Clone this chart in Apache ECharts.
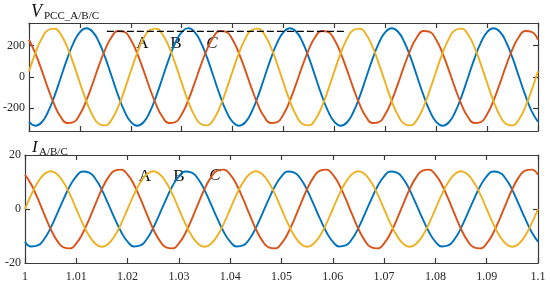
<!DOCTYPE html>
<html><head><meta charset="utf-8">
<script src="https://cdn.jsdelivr.net/npm/echarts@6/dist/echarts.min.js"></script>
<style>html,body{margin:0;padding:0;background:#fff}#c{width:550px;height:283px}</style>
</head><body><div id="c"></div>
<script>
var time = [1,1.00125,1.0025,1.00375,1.005,1.00625,1.0075,1.00875,1.01,1.01125,1.0125,1.01375,1.015,1.01625,1.0175,1.01875,
1.02,1.02125,1.0225,1.02375,1.025,1.02625,1.0275,1.02875,1.03,1.03125,1.0325,1.03375,1.035,1.03625,1.0375,1.03875,
1.04,1.04125,1.0425,1.04375,1.045,1.04625,1.0475,1.04875,1.05,1.05125,1.0525,1.05375,1.055,1.05625,1.0575,1.05875,
1.06,1.06125,1.0625,1.06375,1.065,1.06625,1.0675,1.06875,1.07,1.07125,1.0725,1.07375,1.075,1.07625,1.0775,1.07875,
1.08,1.08125,1.0825,1.08375,1.085,1.08625,1.0875,1.08875,1.09,1.09125,1.0925,1.09375,1.095,1.09625,1.0975,1.09875,1.1];

// voltages (V)
var vBlue = [-286,-311,-289,-222,-122,-3,116,218,286,311,289,222,122,3,-116,-218,
-286,-311,-289,-222,-122,-3,116,218,286,312,289,222,122,3,-116,-218,
-286,-311,-289,-222,-122,-3,116,218,286,311,289,222,122,3,-116,-218,
-286,-311,-289,-222,-122,-3,116,218,286,311,289,222,122,3,-116,-218,
-286,-311,-289,-222,-122,-3,116,218,286,311,289,222,122,3,-116,-218,-286];
var vRed = [238,151,42,-74,-178,-256,-294,-288,-238,-151,-42,74,178,256,294,288,
238,151,42,-74,-178,-256,-294,-288,-238,-151,-42,74,178,256,294,288,
238,151,42,-74,-178,-256,-294,-288,-238,-151,-42,74,178,256,294,288,
238,151,42,-74,-178,-256,-294,-288,-238,-151,-42,74,178,256,294,288,
238,151,42,-74,-178,-256,-294,-288,-238,-151,-42,74,178,256,294,288,238];
var vYellow = [37,153,245,300,309,271,192,84,-37,-153,-245,-300,-309,-271,-192,-84,
37,153,245,300,309,271,192,84,-37,-153,-245,-300,-309,-271,-192,-84,
37,153,245,300,309,271,192,84,-37,-153,-245,-300,-309,-271,-192,-84,
37,153,245,300,309,271,192,84,-37,-153,-245,-300,-309,-271,-192,-84,
37,153,245,300,309,271,192,84,-37,-153,-245,-300,-309,-271,-192,-84,37];

// currents (A)
var iBlue = [-12.1,-13.9,-13.5,-11.1,-7.0,-1.8,3.6,8.5,12.1,13.9,13.5,11.1,7.0,1.8,-3.6,-8.5,
-12.1,-13.9,-13.5,-11.1,-7.0,-1.8,3.6,8.5,12.1,13.9,13.5,11.1,7.0,1.8,-3.6,-8.5,
-12.1,-13.9,-13.5,-11.1,-7.0,-1.8,3.6,8.5,12.1,13.9,13.5,11.1,7.0,1.8,-3.6,-8.5,
-12.1,-13.9,-13.5,-11.1,-7.0,-1.8,3.6,8.5,12.1,13.9,13.5,11.1,7.0,1.8,-3.6,-8.5,
-12.1,-13.9,-13.5,-11.1,-7.0,-1.8,3.6,8.5,12.1,13.9,13.5,11.1,7.0,1.8,-3.6,-8.5,-12.1];
var iRed = [12.7,9.0,3.8,-1.9,-7.4,-11.7,-14.2,-14.6,-12.7,-9.0,-3.8,1.9,7.4,11.7,14.2,14.6,
12.7,9.0,3.8,-1.9,-7.4,-11.7,-14.2,-14.6,-12.7,-9.0,-3.8,1.9,7.4,11.7,14.2,14.6,
12.7,9.0,3.8,-1.9,-7.4,-11.7,-14.2,-14.6,-12.7,-9.0,-3.8,1.9,7.4,11.7,14.2,14.6,
12.7,9.0,3.8,-1.9,-7.4,-11.7,-14.2,-14.6,-12.7,-9.0,-3.8,1.9,7.4,11.7,14.2,14.6,
12.7,9.0,3.8,-1.9,-7.4,-11.7,-14.2,-14.6,-12.7,-9.0,-3.8,1.9,7.4,11.7,14.2,14.6,12.7];
var iYellow = [0,5.4,9.9,12.9,14,12.9,9.9,5.4,0,-5.4,-9.9,-12.9,-14,-12.9,-9.9,-5.4,
0,5.4,9.9,12.9,14,12.9,9.9,5.4,0,-5.4,-9.9,-12.9,-14,-12.9,-9.9,-5.4,
0,5.4,9.9,12.9,14,12.9,9.9,5.4,0,-5.4,-9.9,-12.9,-14,-12.9,-9.9,-5.4,
0,5.4,9.9,12.9,14,12.9,9.9,5.4,0,-5.4,-9.9,-12.9,-14,-12.9,-9.9,-5.4,
0,5.4,9.9,12.9,14,12.9,9.9,5.4,0,-5.4,-9.9,-12.9,-14,-12.9,-9.9,-5.4,0];

// dashed reference line in the voltage panel
var dashX = [1.0153, 1.062];
var dashY = [291, 291];

var vTicks = [-200, 0, 200];
var iLabelTicks = [-20, 0, 20];
var iTickMarks = [0];

function pairs(xs, ys){ return xs.map(function(x,i){ return [x, ys[i]]; }); }

var SERIF = '"Liberation Serif", "DejaVu Serif", serif';
var FRAME = '#3a3a3a';
var BLUE = '#0072BD', RED = '#D95319', YELLOW = '#EDB120';

function xAx(grid, pos, labels){
  return {type:'value', gridIndex:grid, position:pos, min:1, max:1.1, interval:0.01,
    axisLine:{show:true, onZero:false, lineStyle:{color:FRAME, width:1.2}},
    axisTick:{show:true, inside:true, length:5, lineStyle:{color:FRAME, width:1.2}},
    splitLine:{show:false},
    axisLabel:{show:labels, margin:8, color:'#262626', fontFamily:SERIF, fontSize:12,
      formatter:function(v){ return String(+v.toFixed(2)); }}};
}
function yAx(grid, pos, mn, mx, labelVals, tickVals, labels){
  return {type:'value', gridIndex:grid, position:pos, min:mn, max:mx,
    axisLine:{show:true, onZero:false, lineStyle:{color:FRAME, width:1.2}},
    axisTick:{show:true, inside:true, length:5, customValues:tickVals, lineStyle:{color:FRAME, width:1.2}},
    splitLine:{show:false},
    axisLabel:{show:labels, margin:4, customValues:labelVals, color:'#262626', fontFamily:SERIF, fontSize:12}};
}
function ln(name, xi, yi, data, color){
  return {name:name, type:'line', xAxisIndex:xi, yAxisIndex:yi, data:data, showSymbol:false,
    smooth:true, lineStyle:{color:color, width:1.9}, itemStyle:{color:color}, silent:true};
}

var chart = echarts.init(document.getElementById('c'), null, {renderer:'canvas'});
chart.setOption({
  animation:false,
  backgroundColor:'#fff',
  grid:[{left:25, top:23, width:513, height:108}, {left:25, top:155, width:513, height:108}],
  xAxis:[xAx(0,'bottom',false), xAx(0,'top',false), xAx(1,'bottom',true), xAx(1,'top',false)],
  yAxis:[yAx(0,'left',-345,345,vTicks,vTicks,true), yAx(0,'right',-345,345,vTicks,vTicks,false),
         yAx(1,'left',-20,20,iLabelTicks,iTickMarks,true), yAx(1,'right',-20,20,iLabelTicks,iTickMarks,false)],
  series:[
    ln('vB',0,0,pairs(time,vBlue),BLUE),
    ln('vC',0,0,pairs(time,vRed),RED),
    ln('vA',0,0,pairs(time,vYellow),YELLOW),
    {type:'line', xAxisIndex:0, yAxisIndex:0, data:pairs(dashX,dashY), showSymbol:false,
     lineStyle:{color:'#000', width:1.2, type:[7,3]}, silent:true},
    ln('iB',2,2,pairs(time,iBlue),BLUE),
    ln('iC',2,2,pairs(time,iRed),RED),
    ln('iA',2,2,pairs(time,iYellow),YELLOW)
  ],
  graphic:[
    {type:'text', style:{x:31, y:12, text:'V', font:'italic 18px '+SERIF, fill:'#111', textVerticalAlign:'middle'}},
    {type:'text', style:{x:44, y:16, text:'PCC_A/B/C', font:'11px '+SERIF, fill:'#111', textVerticalAlign:'middle'}},
    {type:'text', style:{x:32, y:148, text:'I', font:'italic 17px '+SERIF, fill:'#111', textVerticalAlign:'middle'}},
    {type:'text', style:{x:39, y:152, text:'A/B/C', font:'11px '+SERIF, fill:'#111', textVerticalAlign:'middle'}},
    {type:'text', style:{x:142.5, y:44, text:'A', font:'17px '+SERIF, fill:'#111', textAlign:'center', textVerticalAlign:'middle'}},
    {type:'text', style:{x:176, y:44, text:'B', font:'17px '+SERIF, fill:'#111', textAlign:'center', textVerticalAlign:'middle'}},
    {type:'text', style:{x:212, y:44, text:'C', font:'italic 17px '+SERIF, fill:'#111', textAlign:'center', textVerticalAlign:'middle'}},
    {type:'text', style:{x:145, y:177, text:'A', font:'17px '+SERIF, fill:'#111', textAlign:'center', textVerticalAlign:'middle'}},
    {type:'text', style:{x:179, y:177, text:'B', font:'17px '+SERIF, fill:'#111', textAlign:'center', textVerticalAlign:'middle'}},
    {type:'text', style:{x:215, y:176, text:'C', font:'italic 17px '+SERIF, fill:'#111', textAlign:'center', textVerticalAlign:'middle'}}
  ]
});
</script></body></html>
